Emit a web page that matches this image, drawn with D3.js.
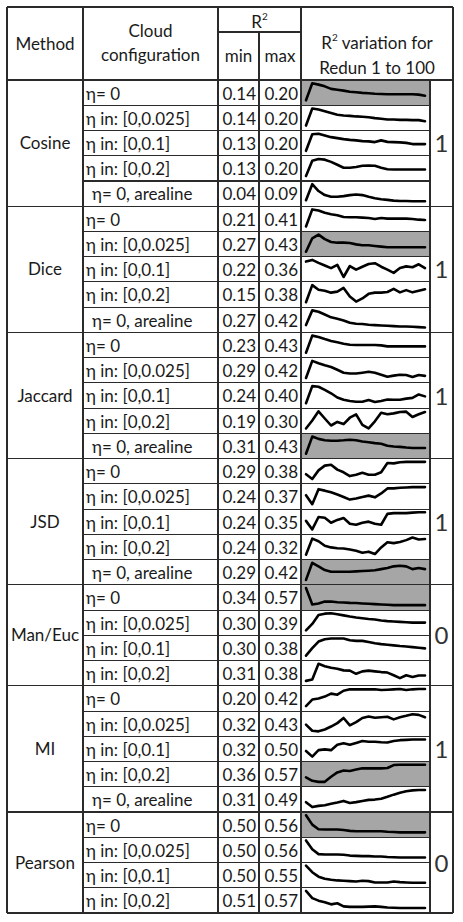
<!DOCTYPE html>
<html><head><meta charset="utf-8">
<script src="https://cdn.jsdelivr.net/npm/d3@7"></script>
<style>
html,body{margin:0;padding:0;background:#fff;}
svg text{font-family:Lato,"Open Sans",sans-serif;fill:#1a1a1a;}
</style></head>
<body><svg id="chart" width="463" height="922"></svg>
<script>
// ---------- data ----------
const methods = ["Cosine","Dice","Jaccard","JSD","Man/Euc","MI","Pearson"];
const methodRows = [5,5,5,5,4,5,4];
const methodFlag = ["1","1","1","1","0","1","0"];
const configLabels = ["η= 0","η in: [0,0.025]","η in: [0,0.1]","η in: [0,0.2]","η= 0, arealine"];
const minVals = [0.14,0.14,0.13,0.13,0.04, 0.21,0.27,0.22,0.15,0.27, 0.23,0.29,0.24,0.19,0.31,
  0.29,0.24,0.24,0.24,0.29, 0.34,0.30,0.30,0.31, 0.20,0.32,0.32,0.36,0.31, 0.50,0.50,0.50,0.51];
const maxVals = [0.20,0.20,0.20,0.20,0.09, 0.41,0.43,0.36,0.38,0.42, 0.43,0.42,0.40,0.30,0.43,
  0.38,0.37,0.35,0.32,0.42, 0.57,0.39,0.38,0.38, 0.42,0.43,0.50,0.57,0.49, 0.56,0.56,0.55,0.57];
const highlighted = [0, 6, 14, 19, 20, 27, 29];
// R² per Redun step (sparklines)
const cosineSeries = [
 [0.140,0.200,0.195,0.189,0.180,0.177,0.174,0.170,0.168,0.166,0.165,0.163,0.162,0.161,0.161,0.161,0.161,0.161,0.160,0.156],
 [0.140,0.200,0.196,0.190,0.184,0.178,0.175,0.174,0.172,0.171,0.169,0.166,0.164,0.161,0.161,0.160,0.160,0.159,0.159,0.155],
 [0.130,0.197,0.199,0.192,0.185,0.181,0.177,0.174,0.172,0.169,0.168,0.165,0.172,0.166,0.165,0.164,0.162,0.157,0.157,0.157],
 [0.130,0.193,0.200,0.197,0.188,0.176,0.164,0.164,0.167,0.172,0.173,0.172,0.164,0.158,0.157,0.157,0.157,0.157,0.157,0.157],
 [0.043,0.090,0.070,0.058,0.053,0.053,0.055,0.058,0.060,0.058,0.053,0.049,0.046,0.044,0.042,0.041,0.041,0.040,0.040,0.040]];
const diceSeries = [
 [0.210,0.410,0.398,0.370,0.354,0.342,0.322,0.318,0.318,0.314,0.310,0.298,0.310,0.302,0.302,0.302,0.302,0.298,0.290,0.286],
 [0.270,0.396,0.430,0.388,0.361,0.355,0.355,0.352,0.339,0.331,0.331,0.324,0.318,0.312,0.312,0.312,0.312,0.312,0.312,0.312],
 [0.346,0.360,0.336,0.314,0.293,0.319,0.220,0.310,0.280,0.304,0.326,0.333,0.304,0.280,0.254,0.293,0.307,0.300,0.324,0.293],
 [0.150,0.380,0.318,0.304,0.279,0.293,0.343,0.226,0.159,0.201,0.263,0.279,0.279,0.288,0.329,0.283,0.313,0.283,0.304,0.325],
 [0.291,0.420,0.408,0.384,0.359,0.347,0.332,0.311,0.303,0.300,0.294,0.291,0.288,0.285,0.282,0.279,0.279,0.276,0.273,0.270]];
const jaccardSeries = [
 [0.230,0.430,0.414,0.390,0.368,0.352,0.336,0.324,0.320,0.320,0.320,0.320,0.316,0.304,0.304,0.304,0.304,0.304,0.304,0.304],
 [0.290,0.420,0.402,0.386,0.373,0.352,0.330,0.324,0.324,0.330,0.337,0.330,0.315,0.299,0.308,0.315,0.312,0.297,0.312,0.306],
 [0.240,0.400,0.394,0.365,0.333,0.293,0.272,0.261,0.254,0.254,0.269,0.251,0.261,0.275,0.272,0.272,0.283,0.290,0.322,0.304],
 [0.190,0.241,0.300,0.254,0.209,0.232,0.218,0.259,0.281,0.213,0.190,0.236,0.291,0.281,0.287,0.296,0.298,0.264,0.281,0.296],
 [0.310,0.430,0.414,0.404,0.401,0.401,0.404,0.408,0.404,0.395,0.390,0.384,0.380,0.366,0.360,0.358,0.353,0.350,0.350,0.350]];
const jsdSeries = [
 [0.315,0.290,0.335,0.360,0.365,0.339,0.325,0.305,0.312,0.322,0.312,0.312,0.325,0.374,0.372,0.378,0.380,0.380,0.380,0.380],
 [0.308,0.240,0.354,0.343,0.330,0.313,0.295,0.275,0.283,0.295,0.305,0.292,0.322,0.360,0.360,0.365,0.367,0.370,0.370,0.370],
 [0.295,0.240,0.320,0.315,0.283,0.301,0.313,0.277,0.270,0.283,0.290,0.277,0.270,0.340,0.345,0.345,0.345,0.348,0.350,0.350],
 [0.240,0.315,0.303,0.282,0.274,0.270,0.269,0.264,0.258,0.249,0.254,0.243,0.274,0.298,0.294,0.299,0.308,0.320,0.311,0.313],
 [0.290,0.420,0.393,0.365,0.352,0.352,0.352,0.352,0.355,0.358,0.360,0.363,0.372,0.380,0.393,0.398,0.393,0.372,0.380,0.372]];
const manEucSeries = [
 [0.570,0.349,0.363,0.388,0.388,0.379,0.375,0.370,0.368,0.363,0.358,0.354,0.349,0.345,0.340,0.340,0.340,0.340,0.340,0.340],
 [0.300,0.334,0.381,0.388,0.390,0.385,0.379,0.373,0.368,0.364,0.360,0.357,0.352,0.349,0.347,0.345,0.343,0.341,0.341,0.341],
 [0.300,0.335,0.366,0.377,0.380,0.380,0.380,0.372,0.369,0.369,0.364,0.358,0.354,0.351,0.348,0.345,0.343,0.340,0.337,0.334],
 [0.310,0.316,0.380,0.370,0.364,0.360,0.353,0.352,0.339,0.349,0.352,0.349,0.346,0.344,0.333,0.321,0.333,0.326,0.332,0.332]];
const miSeries = [
 [0.200,0.284,0.297,0.323,0.361,0.347,0.398,0.416,0.416,0.416,0.416,0.416,0.407,0.411,0.416,0.420,0.407,0.416,0.420,0.420],
 [0.363,0.324,0.320,0.332,0.351,0.373,0.406,0.359,0.379,0.406,0.416,0.408,0.411,0.414,0.397,0.411,0.420,0.430,0.426,0.411],
 [0.379,0.320,0.388,0.396,0.388,0.444,0.460,0.444,0.464,0.484,0.477,0.477,0.471,0.468,0.484,0.493,0.496,0.500,0.500,0.500],
 [0.415,0.373,0.360,0.360,0.423,0.476,0.499,0.494,0.511,0.526,0.526,0.526,0.526,0.530,0.566,0.570,0.570,0.570,0.570,0.570],
 [0.362,0.310,0.323,0.330,0.346,0.359,0.375,0.353,0.362,0.375,0.386,0.389,0.398,0.418,0.441,0.461,0.477,0.486,0.490,0.490]];
const pearsonSeries = [
 [0.560,0.527,0.511,0.510,0.510,0.510,0.508,0.505,0.504,0.504,0.504,0.504,0.504,0.502,0.501,0.500,0.500,0.500,0.500,0.500],
 [0.560,0.529,0.512,0.511,0.511,0.511,0.510,0.507,0.506,0.505,0.505,0.504,0.504,0.502,0.501,0.500,0.500,0.500,0.500,0.500],
 [0.550,0.531,0.518,0.512,0.509,0.507,0.506,0.505,0.504,0.506,0.505,0.501,0.501,0.501,0.504,0.502,0.501,0.500,0.500,0.500],
 [0.570,0.545,0.536,0.530,0.523,0.527,0.516,0.514,0.514,0.514,0.515,0.516,0.514,0.512,0.511,0.510,0.510,0.510,0.510,0.510]];

// ---------- build rows ----------
const allSeries = [cosineSeries,diceSeries,jaccardSeries,jsdSeries,manEucSeries,miSeries,pearsonSeries];
const rows = [];
methods.forEach((m,mi)=>{
  for(let k=0;k<methodRows[mi];k++){
    const i = rows.length;
    rows.push({method:m, mi, config:configLabels[k], min:minVals[i], max:maxVals[i],
      series:allSeries[mi][k], hl:highlighted.includes(i)});
  }
});
const groupStart = []; {let s=0; methodRows.forEach(n=>{groupStart.push(s); s+=n;});}

// ---------- layout ----------
const X = {left:7, c1:83, c2:218, c3:259, c4:301, c5:430, right:453};
const topY=7, subY=32, headBot=80, bottomY=913;
const rowY = d3.scaleLinear().domain([0, rows.length]).range([headBot, bottomY]);
const svg = d3.select("#chart");
const lineCol = "#2a2a2a";

// shaded cells
svg.append("g").selectAll("rect").data(rows.filter(r=>r.hl)).join("rect")
  .attr("x", X.c4).attr("width", X.c5-X.c4)
  .attr("y", d=>rowY(rows.indexOf(d))).attr("height", rowY(1)-rowY(0))
  .attr("fill","#a6a6a6");

// sparklines
const sx = d3.scaleLinear().domain([0,19]).range([306,425]);
const sg = svg.append("g");
rows.forEach((r,i)=>{
  const y0 = rowY(i);
  const sy = d3.scaleLinear().domain(d3.extent(r.series)).range([y0+20.3, y0+3.2]);
  sg.append("path").datum(r.series)
    .attr("d", d3.line().x((d,j)=>sx(j)).y(d=>sy(d)))
    .attr("fill","none").attr("stroke","#000").attr("stroke-width",2.6)
    .attr("stroke-linejoin","round").attr("stroke-linecap","round");
});

// grid lines
const g = svg.append("g").attr("stroke",lineCol).attr("stroke-width",1.1).attr("shape-rendering","crispEdges");
function hl(x1,x2,y){g.append("line").attr("x1",x1).attr("x2",x2).attr("y1",y).attr("y2",y);}
function vl(x,y1,y2){g.append("line").attr("x1",x).attr("x2",x).attr("y1",y1).attr("y2",y2);}
hl(X.left,X.right,topY); hl(X.left,X.right,headBot); hl(X.left,X.right,bottomY);
hl(X.c2,X.c4,subY);
vl(X.left,topY,bottomY); vl(X.right,topY,bottomY);
vl(X.c1,topY,bottomY); vl(X.c2,topY,bottomY); vl(X.c3,subY,bottomY); vl(X.c4,topY,bottomY);
vl(X.c5,headBot,bottomY);
rows.forEach((r,i)=>{
  if(i===0) return;
  const y = rowY(i);
  if(groupStart.includes(i)) hl(X.left,X.right,y); else hl(X.c1,X.c5,y);
});

// header text
const T = svg.append("g").attr("font-size",17);
T.append("text").attr("x",(X.left+X.c1)/2).attr("y",50).attr("text-anchor","middle").text("Method");
T.append("text").attr("x",(X.c1+X.c2)/2).attr("y",37).attr("text-anchor","middle").text("Cloud");
T.append("text").attr("x",(X.c1+X.c2)/2).attr("y",61).attr("text-anchor","middle").text("configuration");
const r2 = T.append("text").attr("x",(X.c2+X.c4)/2).attr("y",28).attr("text-anchor","middle");
r2.append("tspan").text("R"); r2.append("tspan").attr("font-size",10).attr("dy",-8).text("2");
T.append("text").attr("x",(X.c2+X.c3)/2).attr("y",62).attr("text-anchor","middle").text("min");
T.append("text").attr("x",(X.c3+X.c4)/2).attr("y",62).attr("text-anchor","middle").text("max");
const h5 = T.append("text").attr("x",(X.c4+X.right)/2).attr("y",49).attr("text-anchor","middle");
h5.append("tspan").text("R"); h5.append("tspan").attr("font-size",10).attr("dy",-8).text("2");
h5.append("tspan").attr("dy",8).text(" variation for");
T.append("text").attr("x",(X.c4+X.right)/2).attr("y",74).attr("text-anchor","middle").text("Redun 1 to 100");

// body text
const fmt = d3.format(".2f");
const B = svg.append("g").attr("font-size",17);
rows.forEach((r,i)=>{
  const base = rowY(i)+19.5;
  B.append("text").attr("x", r.config.startsWith("η= 0,") ? 92 : 86).attr("y",base).text(r.config);
  B.append("text").attr("x",X.c3-3).attr("y",base).attr("text-anchor","end").text(fmt(r.min));
  B.append("text").attr("x",X.c4-3).attr("y",base).attr("text-anchor","end").text(fmt(r.max));
});
methods.forEach((m,mi)=>{
  const s = groupStart[mi], e = s+methodRows[mi];
  const cy = (rowY(s)+rowY(e))/2;
  B.append("text").attr("x",(X.left+X.c1)/2).attr("y",cy+6).attr("text-anchor","middle").text(m);
  B.append("text").attr("x",(X.c5+X.right)/2).attr("y",cy+9).attr("text-anchor","middle")
    .attr("font-size",24).style("fill","#333").text(methodFlag[mi]);
});
</script></body></html>
